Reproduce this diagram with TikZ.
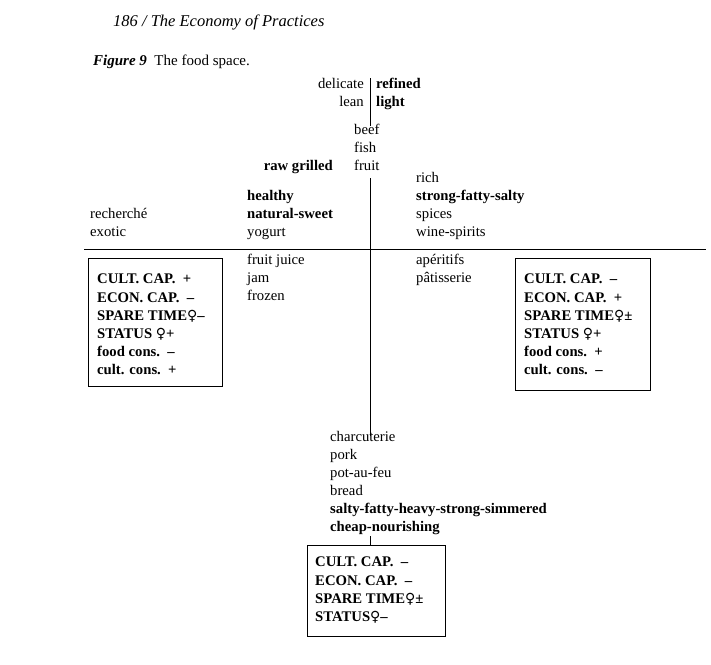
\documentclass[tikz,border=0pt]{standalone}
\usepackage{fontspec}
\setmainfont{Liberation Serif}
\newfontfamily\venusfont{DejaVu Sans}
\newcommand{\ven}{{\venusfont\fontsize{14}{18}\selectfont ♀}}
\begin{document}
\begin{tikzpicture}[x=1pt,y=-1pt,
  txt/.style={font=\fontsize{14.7}{18}\selectfont, align=left, inner sep=0pt, anchor=north west},
  txtr/.style={txt, align=right, anchor=north east},
  btxt/.style={txt, font=\fontsize{14.7}{18.2}\selectfont\bfseries},
  bx/.style={draw, line width=1pt, inner sep=0pt, anchor=north west},
  ax/.style={line width=0.8pt}]
\useasboundingbox (0,0) rectangle (711,664);
\node[inner sep=0pt, anchor=west, font=\fontsize{16.5}{18}\selectfont\itshape] (hdr) at (113,22) {186 / The Economy of Practices};
\node[inner sep=0pt, anchor=west, font=\fontsize{15}{16}\selectfont] (fig) at (93,62) {\textbf{\textit{Figure 9}}\enspace The food space.};
% axes
\coordinate (vt) at (370,78);
\coordinate (vm1) at (370,126);
\coordinate (vm2) at (370,178);
\coordinate (vb) at (370,436);
\coordinate (vb2) at (370,536);
\coordinate (hl) at (84,249);
\coordinate (hr) at (706,249);
\draw[ax] (vt) -- (vm1);
\draw[ax] (vm2) -- (vb);
\draw[ax] (hl) -- (hr);
% texts
\node[txtr] (tl) at (364,78) {delicate\\lean};
\node[txt] (tr) at (376,78) {\textbf{refined}\\\textbf{light}};
\node[txt] (beef) at (354,124) {beef\\fish\\fruit};
\node[txtr] (raw) at (333,160) {\textbf{raw grilled}};
\node[txt] (heal) at (247,190) {\textbf{healthy}\\\textbf{natural-sweet}\\yogurt};
\node[txt] (rich) at (416,172) {rich\\\textbf{strong-fatty-salty}\\spices\\wine-spirits};
\node[txt] (rech) at (90,208) {recherché\\exotic};
\node[txt] (juice) at (247,254) {fruit juice\\jam\\frozen};
\node[txt] (aper) at (416,254) {apéritifs\\pâtisserie};
\node[txt] (bot) at (330,431) {charcuterie\\pork\\pot-au-feu\\bread\\\textbf{salty-fatty-heavy-strong-simmered}\\\textbf{cheap-nourishing}};
% boxes
\node[bx, minimum width=134, minimum height=128] (lbox) at (88,258) {};
\node[btxt] (ltext) at (97,274) {CULT. CAP.\ \ +\\ECON. CAP.\ \ --\\SPARE TIME\ven--\\STATUS \ven+\\food cons.\ \ --\\cult. cons.\ \ +};
\node[bx, minimum width=135, minimum height=132] (rbox) at (515,258) {};
\node[btxt] (rtext) at (524,274) {CULT. CAP.\ \ --\\ECON. CAP.\ \ +\\SPARE TIME\ven±\\STATUS \ven+\\food cons.\ \ +\\cult. cons.\ \ --};
\node[bx, minimum width=138, minimum height=91] (bbox) at (307,545) {};
\node[btxt] (btext) at (315,557) {CULT. CAP.\ \ --\\ECON. CAP.\ \ --\\SPARE TIME\ven±\\STATUS\ven--};
\draw[ax] (vb2) -- (bbox.north -| vb2);
\end{tikzpicture}
\end{document}
